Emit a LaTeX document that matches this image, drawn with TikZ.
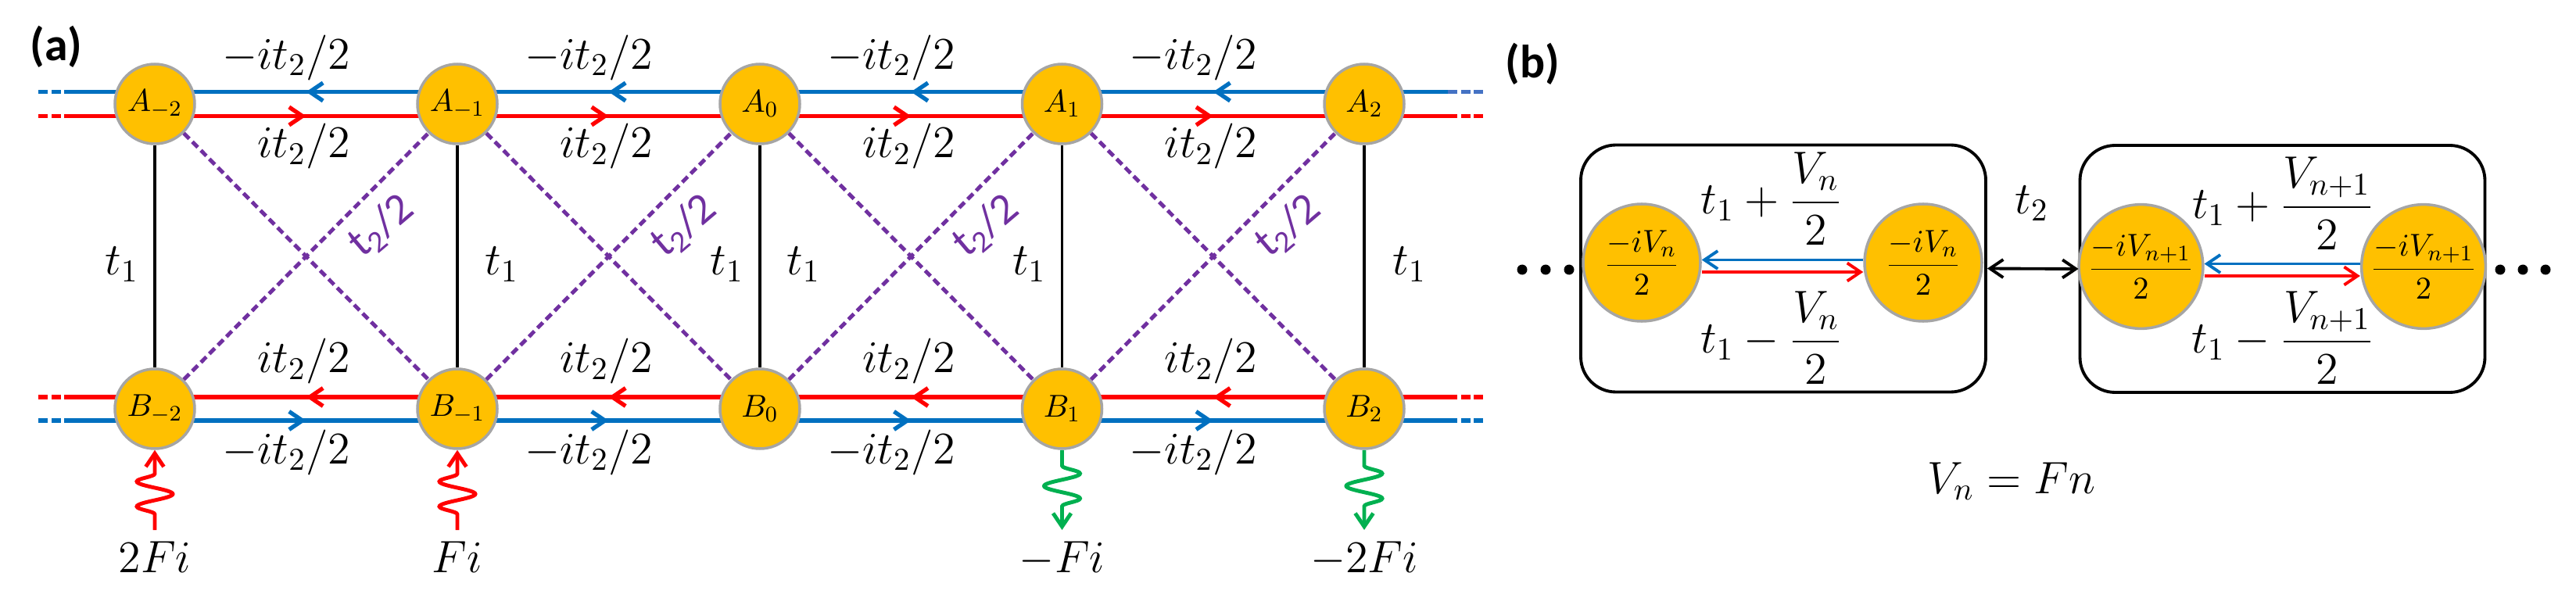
\RequirePackage{fix-cm}
\documentclass[tikz,border=0pt]{standalone}
\usepackage{amsmath,amssymb}
\usepackage{fontspec}
\newfontfamily\panelfont{Carlito}
\usepackage{xcolor}
\usepackage{tikz}
\usetikzlibrary{arrows.meta,calc,decorations.pathmorphing,decorations.markings,positioning,backgrounds}

\definecolor{siteyel}{HTML}{FFC000}
\definecolor{sitegray}{HTML}{A5A5A5}
\definecolor{hopblue}{HTML}{0070C0}
\definecolor{dashblue}{HTML}{4472C4}
\definecolor{hopred}{HTML}{FF0000}
\definecolor{hoppurple}{HTML}{7030A0}
\definecolor{drivegreen}{HTML}{00B050}

\begin{document}
\begin{tikzpicture}[
  font=\fontsize{16.5}{20}\selectfont,
  site/.style={circle,draw=sitegray,line width=1pt,fill=siteyel,minimum size=1.02cm,inner sep=0pt,font=\fontsize{11.5}{14}\selectfont},
  bsite/.style={site,minimum size=1.5cm},
  cell/.style={draw,line width=1.1pt,rounded corners=0.45cm,minimum width=5.18cm,minimum height=3.16cm},
  hop/.style={line width=1.5pt},
  bhop/.style={line width=1.1pt},
  midarr/.style={postaction={decorate},decoration={markings,mark=at position 0.5 with {\arrow{>}}}},
  endash/.style={dash pattern=on 1.2mm off 0.45mm},
  rung/.style={line width=1.1pt},
  diag/.style={draw=hoppurple,line width=1.4pt,dash pattern=on 2.8pt off 1.6pt},
  hlab/.style={text=hoppurple,inner sep=1pt,font=\panelfont\fontsize{16}{19}\selectfont},
  drive/.style={line width=1.4pt,decorate,decoration={snake,amplitude=0.23cm,segment length=0.32cm,pre length=0.2cm,post length=0.22cm}},
  tag/.style={font=\panelfont\bfseries\fontsize{17}{20}\selectfont},
  >={Straight Barb[length=1.7mm,width=2.3mm]}
]
\useasboundingbox (0,0) rectangle (32.95,7.73);

\node[tag] (ta) at (0.72,7.13) {(a)};
\node[tag] (tb) at (19.60,6.91) {(b)};

\foreach \n/\x/\s in {m2/1.98/-2,m1/5.85/-1,0/9.72/0,1/13.585/1,2/17.45/2} {
  \node[site] (A\n) at (\x,6.40) {$A_{\s}$};
  \node[site] (B\n) at (\x,2.50) {$B_{\s}$};
  \draw[rung] (A\n) -- (B\n);
}

\begin{scope}[on background layer]
\foreach \p/\q in {m2/m1,m1/0,0/1,1/2} {
  \draw[hop,hopblue,midarr] ([yshift=1.55mm]A\q.center) -- ([yshift=1.55mm]A\p.center);
  \draw[hop,hopred,midarr] ([yshift=-1.55mm]A\p.center) -- ([yshift=-1.55mm]A\q.center);
  \draw[hop,hopred,midarr] ([yshift=1.5mm]B\q.center) -- ([yshift=1.5mm]B\p.center);
  \draw[hop,hopblue,midarr] ([yshift=-1.5mm]B\p.center) -- ([yshift=-1.5mm]B\q.center);
}
\foreach \l/\r/\dy/\c/\d in {Am2/A2/1.55/hopblue/dashblue,Am2/A2/-1.55/hopred/hopred,Bm2/B2/1.5/hopred/hopred,Bm2/B2/-1.5/hopblue/hopblue} {
  \draw[hop,\c] ($(\l)+(0,\dy mm)$) -- ($(\l)+(-1.04,\dy mm)$);
  \draw[hop,\c,endash] ($(\l)+(-1.04,\dy mm)$) -- ($(\l)+(-1.49,\dy mm)$);
  \draw[hop,\c] ($(\r)+(0,\dy mm)$) -- ($(\r)+(1.07,\dy mm)$);
  \draw[hop,\d,endash] ($(\r)+(1.07,\dy mm)$) -- ($(\r)+(1.56,\dy mm)$);
}
\end{scope}

\foreach \p/\q in {m2/m1,m1/0,0/1,1/2} {
  \node[anchor=base east] (ua\p) at ($(A\p)!0.5!(A\q)+(0.69,0.45)$) {$-it_2/2$};
  \node[anchor=base east] (la\p) at ($(A\p)!0.5!(A\q)+(0.69,-0.69)$) {$it_2/2$};
  \node[anchor=base east] (ub\p) at ($(B\p)!0.5!(B\q)+(0.69,0.46)$) {$it_2/2$};
  \node[anchor=base east] (lb\p) at ($(B\p)!0.5!(B\q)+(0.69,-0.70)$) {$-it_2/2$};
  \draw[diag] (A\p) -- (B\q);
  \draw[diag] (B\p) -- (A\q) node[pos=0.72,sloped,rotate=-5,below=0.12cm,hlab] (h\p) {t\textsubscript{2}/2};
}

\foreach \n/\dx in {m2/-0.42,m1/0.57,0/-0.42,0/0.56,1/-0.42,2/0.58}
  \node (t\n\dx) at ($(A\n)!0.5!(B\n)+(\dx,-0.10)$) {$t_1$};

\foreach \n in {m2,m1,1,2}
  \coordinate (F\n) at ($(B\n)+(0,-1.55)$);
\draw[drive,hopred,->] (Fm2) -- (Bm2);
\draw[drive,hopred,->] (Fm1) -- (Bm1);
\draw[drive,drivegreen,->] (B1) -- (F1);
\draw[drive,drivegreen,->] (B2) -- (F2);
\node[anchor=base] (fm2) at ($(Bm2)+(0,-2.09)$) {$2Fi$};
\node[anchor=base] (fm1) at ($(Bm1)+(0,-2.09)$) {$Fi$};
\node[anchor=base] (f1) at ($(B1)+(0,-2.09)$) {$-Fi$};
\node[anchor=base] (f2) at ($(B2)+(0,-2.09)$) {$-2Fi$};

\node[cell] (C1) at (22.81,4.295) {};
\node[cell] (C2) at (29.195,4.29) {};
\node[bsite] (L1) at (21.00,4.37) {$\dfrac{-iV_n}{2}$};
\node[bsite] (R1) at (24.60,4.37) {$\dfrac{-iV_n}{2}$};
\node[bsite] (L2) at (27.385,4.32) {$\dfrac{-iV_{n+1}}{2}$};
\node[bsite] (R2) at (31.00,4.32) {$\dfrac{-iV_{n+1}}{2}$};
\draw[bhop,hopblue,->] ([yshift=0.35mm]R1.west) -- ([yshift=0.35mm]L1.east);
\draw[bhop,hopred,->] ([yshift=-1.2mm]L1.east) -- ([yshift=-1.2mm]R1.west);
\draw[bhop,hopblue,->] ([yshift=0.35mm]R2.west) -- ([yshift=0.35mm]L2.east);
\draw[bhop,hopred,->] ([yshift=-1.2mm]L2.east) -- ([yshift=-1.2mm]R2.west);
\draw[bhop,<->] (C1.east) -- (C2.west);
\node (tt) at (25.99,5.13) {$t_2$};
\node (p1) at (22.66,5.19) {$t_1+\dfrac{V_n}{2}$};
\node (m1) at (22.66,3.41) {$t_1-\dfrac{V_n}{2}$};
\node (p2) at (29.20,5.13) {$t_1+\dfrac{V_{n+1}}{2}$};
\node (m2) at (29.20,3.41) {$t_1-\dfrac{V_{n+1}}{2}$};
\foreach \x in {19.47,19.77,20.07,31.98,32.27,32.56}
  \fill (\x,4.28) circle (0.065);
\node[anchor=base] (vn) at (25.73,1.42) {$V_n=Fn$};
\end{tikzpicture}
\end{document}
